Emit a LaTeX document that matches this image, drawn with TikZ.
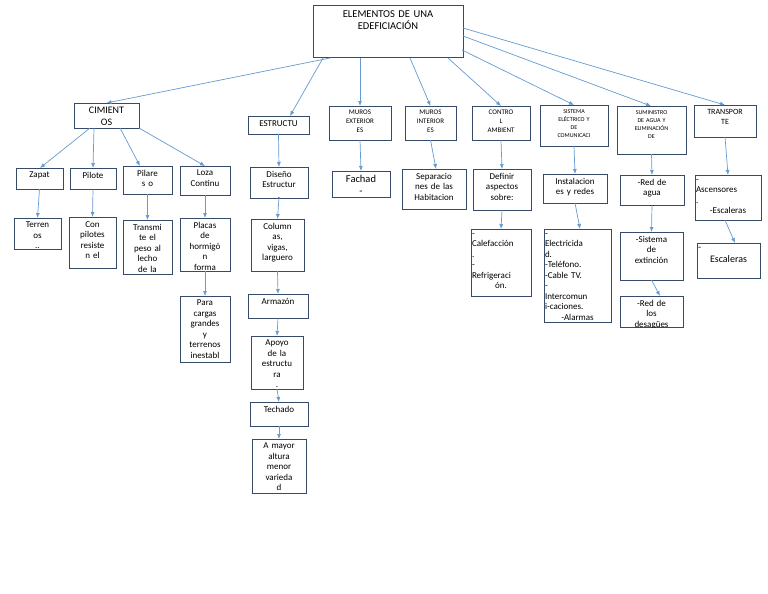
\documentclass[tikz,border=0pt]{standalone}
\usepackage{fontspec}
\setmainfont{Carlito}
\usetikzlibrary{arrows.meta}
\definecolor{bord}{RGB}{55,75,105}
\definecolor{conn}{RGB}{100,155,210}
\tikzset{
  box/.style={draw=bord,line width=1pt,fill=white,inner sep=0pt},
  lab/.style={anchor=north,align=center,font=\fontsize{9}{10.5}\selectfont,inner sep=0pt},
  con/.style={draw=conn,line width=0.7pt,-{Latex[length=5pt,width=4pt]}}
}
% name, x1, y1, x2, y2, text, font
\newcommand{\bxx}[7]{%
  \path[box] (#2,#3) rectangle (#4,#5);
  \begin{scope}
    \clip (#2,#3) rectangle (#4,#5);
    \node[lab,font=#7,text width={(#4-#2-2)*1pt}] at ({(#2+#4)/2},{#3+4}) {#6};
  \end{scope}
  \coordinate (#1-n) at ({(#2+#4)/2},#3);
  \coordinate (#1-s) at ({(#2+#4)/2},#5);
}
\begin{document}
\begin{tikzpicture}[x=1pt,y=-1pt]
\path[fill=white] (0,0) rectangle (768,594);
\def\sm{\fontsize{9}{10.5}\selectfont}
\def\xs{\fontsize{7}{9}\selectfont}
\bxx{root}{313}{6}{463}{58}{ELEMENTOS DE UNA\\EDEFICIACIÓN}{\fontsize{10.5}{12}\selectfont}
\bxx{cim}{74}{103}{139}{128}{CIMIENT\\OS}{\fontsize{10}{12}\selectfont}
\bxx{zap}{16}{168}{63}{189}{Zapat}{\sm}
\bxx{pil}{70}{168}{116}{189}{Pilote}{\sm}
\bxx{pia}{123}{166}{172}{194}{Pilare\\s o}{\sm}
\bxx{loz}{180}{166}{230}{195}{Loza\\Continu}{\sm}
\bxx{ter}{14}{218}{61}{249}{Terren\\os\\..}{\sm}
\bxx{con}{69}{217}{116}{268}{Con\\pilotes\\resiste\\n el}{\sm}
\bxx{tra}{123}{220}{172}{274}{Transmi\\te el\\peso al\\lecho\\de la}{\sm}
\bxx{pla}{180}{218}{230}{271}{Placas\\de\\hormigó\\n\\forma}{\sm}
\bxx{par}{180}{296}{230}{362}{Para\\cargas\\grandes\\y\\terrenos\\inestabl}{\sm}
\bxx{est}{248}{116}{309}{134}{ESTRUCTU}{\sm}
\bxx{dis}{250}{167}{308}{198}{Diseño\\Estructur\\.}{\sm}
\bxx{col}{251}{219}{304}{271}{Column\\as,\\vigas,\\larguero}{\sm}
\bxx{arm}{248}{294}{308}{318}{Armazón}{\sm}
\bxx{apo}{251}{336}{303}{389}{Apoyo\\de la\\estructu\\ra\\.}{\sm}
\bxx{tec}{250}{402}{308}{426}{Techado}{\sm}
\bxx{may}{252}{439}{306}{493}{A mayor\\altura\\menor\\varieda\\d}{\sm}
\bxx{mex}{329}{106}{391}{140}{MUROS\\EXTERIOR\\ES}{\xs}
\bxx{fac}{332}{171}{390}{197}{Fachad\\-}{\fontsize{10.5}{12}\selectfont}
\bxx{min}{405}{106}{456}{140}{MUROS\\INTERIOR\\ES}{\xs}
\bxx{sep}{402}{169}{466}{209}{Separacio\\nes de las\\Habitacion}{\sm}
\bxx{ctl}{472}{106}{530}{140}{CONTRO\\L\\AMBIENT}{\xs}
\bxx{def}{473}{169}{531}{210}{Definir\\aspectos\\sobre:}{\sm}
\bxx{cal}{471}{229}{531}{296}{\raggedright-\\Calefacción\\.\\-\\Refrigeraci\\ón.}{\sm}
\bxx{sis}{540}{105}{608}{146}{SISTEMA\\ELÉCTRICO Y\\DE\\COMUNICACI}{\fontsize{6}{8}\selectfont}
\bxx{ins}{543}{174}{607}{203}{Instalacion\\es y redes\\.}{\sm}
\bxx{ele}{544}{229}{611}{322}{\raggedright-\\Electricida\\d.\\-Teléfono.\\-Cable TV.\\-\\Intercomun\\i-caciones.\\-Alarmas}{\sm}
\bxx{sum}{617}{106}{686}{154}{SUMINISTRO\\DE AGUA Y\\ELIMINACIÓN\\DE}{\fontsize{6}{8}\selectfont}
\bxx{rag}{620}{175}{684}{205}{-Red de\\agua\\..}{\sm}
\bxx{sex}{620}{232}{683}{280}{-Sistema\\de\\extinción}{\sm}
\bxx{rlo}{620}{296}{683}{327}{-Red de\\los\\desagües}{\sm}
\bxx{trn}{694}{105}{756}{137}{TRANSPOR\\TE}{\fontsize{8}{10}\selectfont}
\bxx{asc}{695}{175}{761}{220}{\raggedright-\\Ascensores\\.\\-Escaleras}{\sm}
\bxx{esc}{697}{243}{760}{278}{\raggedright-\\Escaleras}{\fontsize{10}{12}\selectfont}
% connectors from root
\draw[con] (330,58) -- (cim-n);
\draw[con] (323,58) -- (290,116);
\draw[con] (360,58) -- (mex-n);
\draw[con] (410,58) -- (min-n);
\draw[con] (448,58) -- (501,106);
\draw[con] (462,50) -- (574,105);
\draw[con] (463,36) -- (651,106);
\draw[con] (463,28) -- (725,105);
% cimientos
\draw[con] (90,128) -- (40,168);
\draw[con] (94,128) -- (pil-n);
\draw[con] (120,128) -- (140,166);
\draw[con] (139,128) -- (205,166);
\draw[con] (zap-s) -- (ter-n);
\draw[con] (pil-s) -- (con-n);
\draw[con] (pia-s) -- (tra-n);
\draw[con] (loz-s) -- (pla-n);
\draw[con] (pla-s) -- (par-n);
% estructura
\draw[con] (est-s) -- (dis-n);
\draw[con] (dis-s) -- (col-n);
\draw[con] (col-s) -- (arm-n);
\draw[con] (arm-s) -- (apo-n);
\draw[con] (apo-s) -- (tec-n);
\draw[con] (tec-s) -- (may-n);
\draw[con] (mex-s) -- (fac-n);
\draw[con] (min-s) -- (436,169);
\draw[con] (ctl-s) -- (def-n);
\draw[con] (def-s) -- (cal-n);
\draw[con] (574,146) -- (575,174);
\draw[con] (ins-s) -- (580,229);
\draw[con] (sum-s) -- (rag-n);
\draw[con] (rag-s) -- (sex-n);
\draw[con] (sex-s) -- (660,296);
\draw[con] (725,137) -- (728,175);
\draw[con] (725,220) -- (735,243);
\end{tikzpicture}
\end{document}
